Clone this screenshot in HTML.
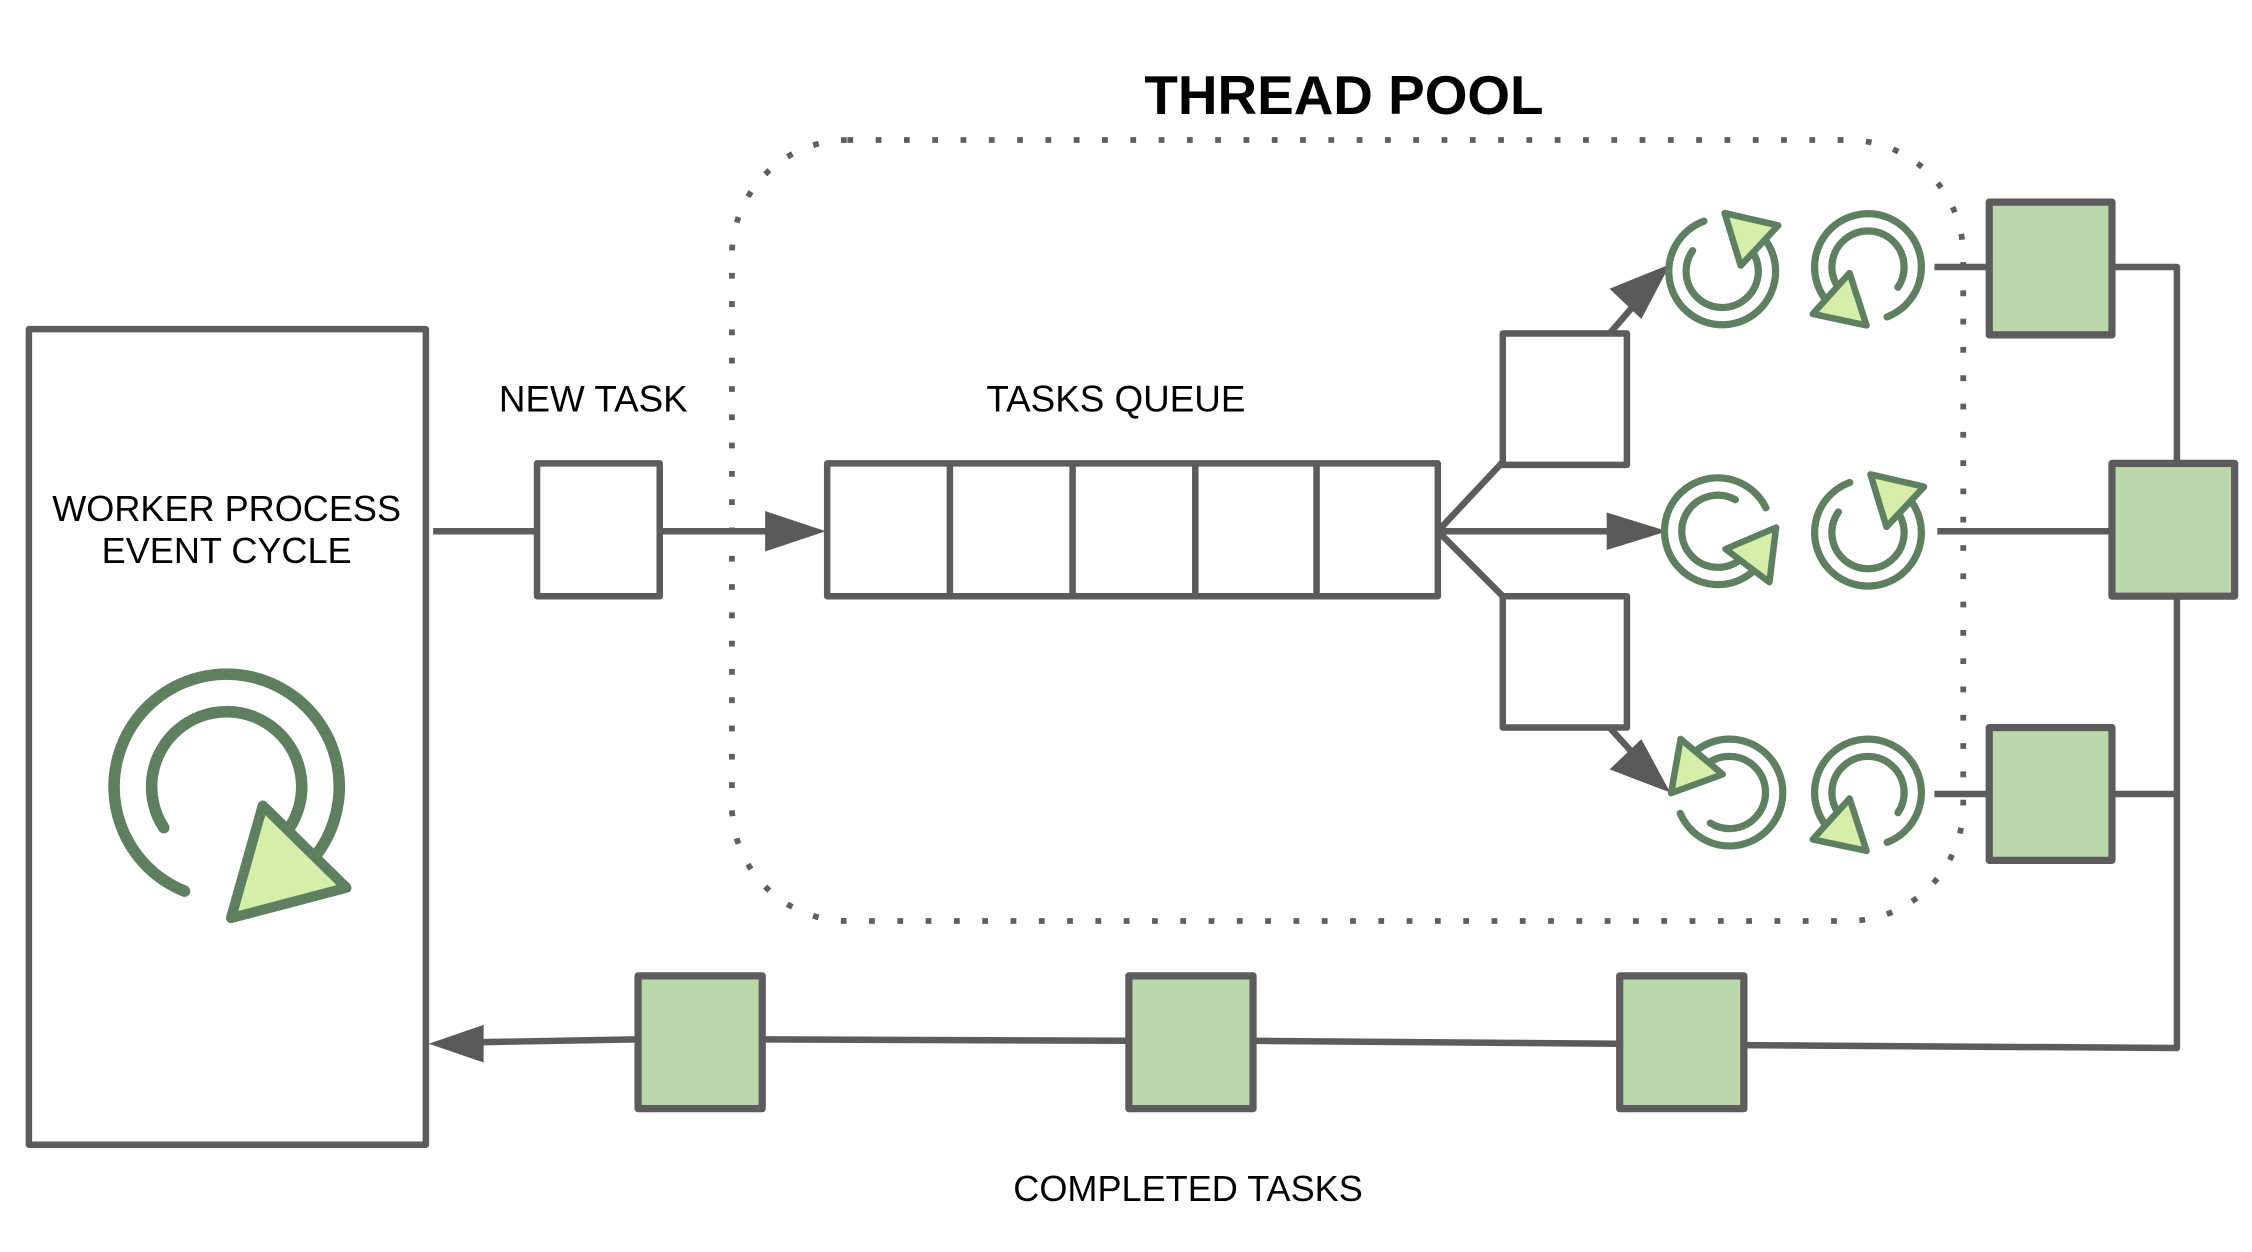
<!DOCTYPE html>
<html><head><meta charset="utf-8"><style>
html,body{margin:0;padding:0;background:#fff;}
svg{display:block;}
text{font-family:"Liberation Sans",Arial,sans-serif;fill:#000;}
</style></head><body>
<svg id="s" width="2252" height="1252" viewBox="0 0 1560 867.3" xmlns="http://www.w3.org/2000/svg">
<rect x="0" y="0" width="1560" height="868" fill="#fff"/>
<text x="931" y="79" font-size="38" font-weight="bold" text-anchor="middle">THREAD POOL</text>
<rect x="507" y="97" width="853" height="541" rx="80" ry="80" fill="none" stroke="#5f5f5f" stroke-width="4" stroke-dasharray="4 15.6"/>
<g fill="none" stroke="#5c5c5c" stroke-width="4.5" stroke-linejoin="round">
<rect x="20" y="228" width="275" height="565" fill="#fff"/>
<line x1="300" y1="368" x2="372" y2="368"/>
<rect x="372" y="321" width="85" height="92" fill="#fff"/>
<line x1="457" y1="368" x2="535" y2="368"/>
<rect x="573" y="321" width="423" height="92" fill="#fff"/>
<line x1="658" y1="321" x2="658" y2="413"/>
<line x1="743" y1="321" x2="743" y2="413"/>
<line x1="828" y1="321" x2="828" y2="413"/>
<line x1="912" y1="321" x2="912" y2="413"/>
<polyline points="1041,320 996,368 1041,413"/>
<line x1="996" y1="368" x2="1118" y2="368"/>
<rect x="1041" y="231" width="86" height="91" fill="#fff"/>
<rect x="1041" y="413" width="86" height="91" fill="#fff"/>
<line x1="1115" y1="231" x2="1135" y2="208"/>
<line x1="1115" y1="504" x2="1135" y2="526"/>
<line x1="1340" y1="185" x2="1378" y2="185"/>
<polyline points="1463,185 1508,185 1508,726 1208,724"/>
<line x1="1342" y1="368" x2="1463" y2="368"/>
<line x1="1340" y1="550" x2="1378" y2="550"/>
<line x1="1463" y1="550" x2="1508" y2="550"/>
<line x1="1122" y1="723" x2="868" y2="721"/>
<line x1="782" y1="721" x2="528" y2="720"/>
<line x1="442" y1="720" x2="330" y2="722"/>
<g fill="#bcd7aa" stroke-width="5">
<rect x="1378" y="140" width="85" height="92"/>
<rect x="1463" y="321" width="85" height="92"/>
<rect x="1378" y="504" width="85" height="92"/>
<rect x="1122" y="676" width="86" height="92"/>
<rect x="782" y="676" width="86" height="92"/>
<rect x="442" y="676" width="86" height="92"/>
</g>
</g>
<g fill="#5a5a5a">
<polygon points="572,368 530,354 530,382"/>
<polygon points="1155,368 1113,355 1113,381"/>
<polygon points="1157,183 1115,200 1137,221"/>
<polygon points="1157,549 1137,512 1115,533"/>
<polygon points="297,723 335,710 335,736"/>
</g>
<text x="157" y="361" font-size="25" text-anchor="middle">WORKER PROCESS</text>
<text x="157" y="390" font-size="25" text-anchor="middle">EVENT CYCLE</text>
<text x="411" y="285" font-size="25.5" text-anchor="middle">NEW TASK</text>
<text x="773" y="285" font-size="25.5" text-anchor="middle">TASKS QUEUE</text>
<text x="823" y="832" font-size="25" text-anchor="middle">COMPLETED TASKS</text>
<g id="icons"></g>
<polygon points="182,558 240,615 160,636" fill="#d5eeaa" stroke="#5e7f60" stroke-width="7" stroke-linejoin="round"/>
</svg>
<script>
(function(){
var g=document.getElementById('icons'),NS='http://www.w3.org/2000/svg';
function P(cx,cy,r,a){a=a*Math.PI/180;return [cx+r*Math.cos(a),cy+r*Math.sin(a)];}
function arc(cx,cy,r,s,e,cw){var p=P(cx,cy,r,s),q=P(cx,cy,r,e);var sw=Math.abs(e-s);
return 'M'+p[0].toFixed(2)+' '+p[1].toFixed(2)+' A'+r+' '+r+' 0 '+(sw>180?1:0)+' '+(cw?1:0)+' '+q[0].toFixed(2)+' '+q[1].toFixed(2);}
function add(tag,attrs){var el=document.createElementNS(NS,tag);for(var k in attrs)el.setAttribute(k,attrs[k]);g.appendChild(el);}
function icon(cx,cy,ro,ri,T,cw,sw,d,notri){
var dir=cw?1:-1;
var s=T-dir*305, e1=T-dir*18, e2=T-dir*22, s2=T-dir*270;
add('path',{d:arc(cx,cy,ro,s,e1,cw),fill:'none',stroke:'#5e7f60','stroke-width':sw,'stroke-linecap':'round'});
add('path',{d:arc(cx,cy,ri,s2,e2,cw),fill:'none',stroke:'#5e7f60','stroke-width':sw,'stroke-linecap':'round'});
if(notri)return;
var rm=(ro+ri)/2,c=P(cx,cy,rm,T),a=(T-dir*8)*Math.PI/180;
var tx=-Math.sin(a)*dir,ty=Math.cos(a)*dir,nx=Math.cos(a),ny=Math.sin(a);
var pts=[[c[0]+d*tx,c[1]+d*ty],[c[0]-d/2*tx+d*0.866*nx,c[1]-d/2*ty+d*0.866*ny],[c[0]-d/2*tx-d*0.866*nx,c[1]-d/2*ty-d*0.866*ny]];
add('polygon',{points:pts.map(function(p){return p[0].toFixed(2)+','+p[1].toFixed(2)}).join(' '),fill:'#d5eeaa',stroke:'#5e7f60','stroke-width':sw*0.9,'stroke-linejoin':'round'});
}
icon(157,545,78,52,57,true,8,45,true);
icon(1193,188,37,25,305,false,5,22);
icon(1294,185,37,25,124,false,5,22);
icon(1190,368,37,25,29,false,5,22);
icon(1294,369,37,25,305,false,5,22);
icon(1198,549,37,25,212,false,5,22);
icon(1294,549,37,25,124,false,5,22);
})();
</script>
</body></html>
